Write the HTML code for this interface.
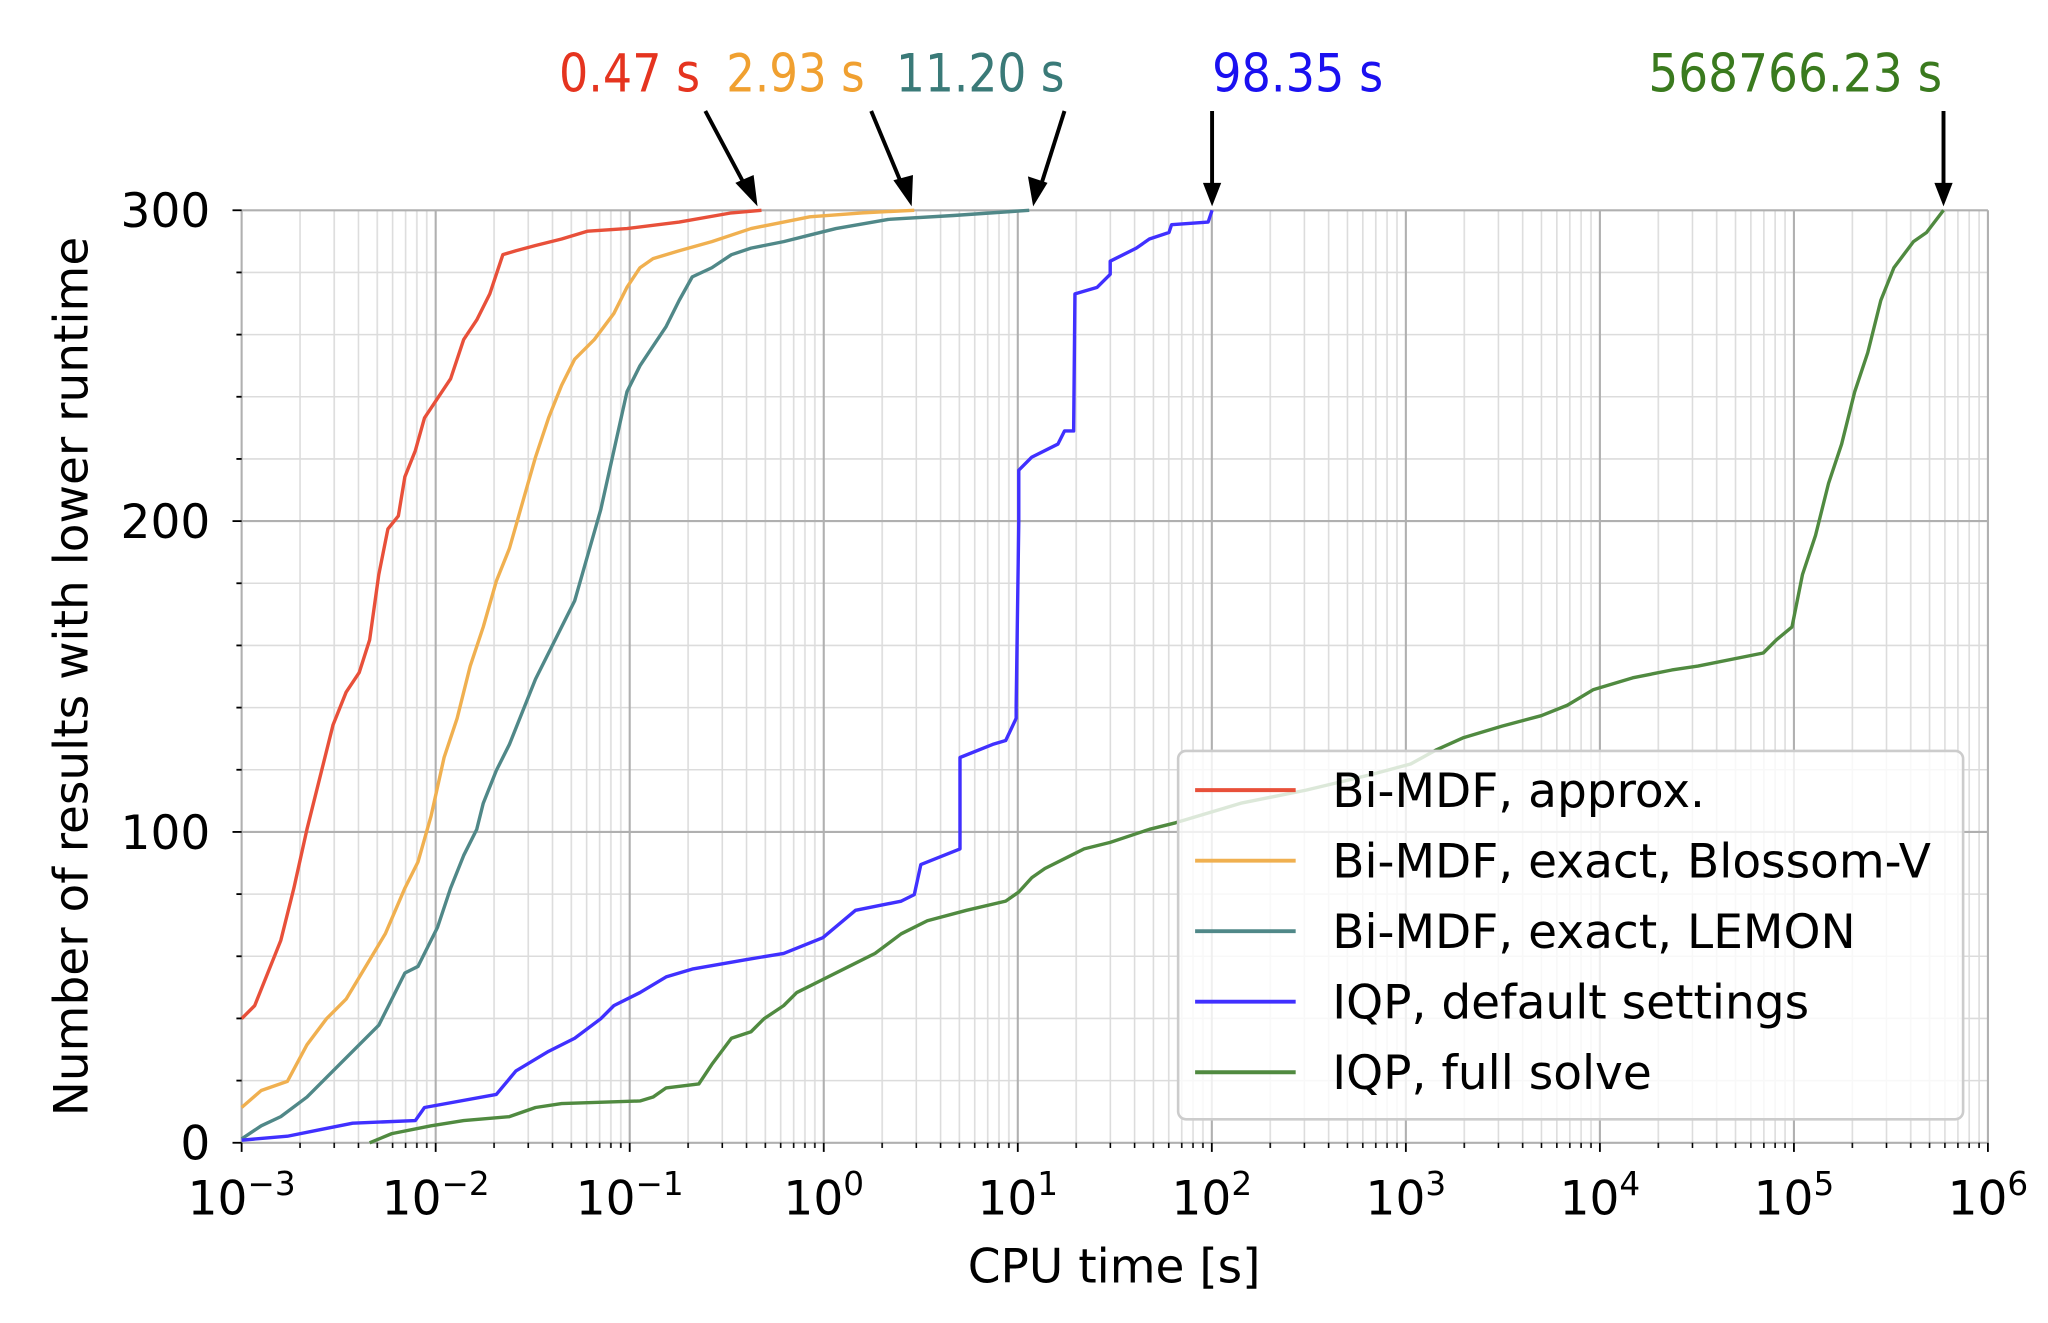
<!DOCTYPE html>
<html><head><meta charset="utf-8"><style>html,body{margin:0;padding:0;background:#fff}svg{display:block}</style></head>
<body>
<svg width="2048" height="1323" viewBox="0 0 1568 1013" preserveAspectRatio="none" xmlns="http://www.w3.org/2000/svg" font-family="DejaVu Sans, Liberation Sans, sans-serif">
<defs>
<pattern id="minx" x="185" y="0" width="148.56" height="1013" patternUnits="userSpaceOnUse">
<g stroke="#dcdcdc" stroke-width="1.2">
<line x1="44.72" y1="0" x2="44.72" y2="1013"/><line x1="70.88" y1="0" x2="70.88" y2="1013"/><line x1="89.44" y1="0" x2="89.44" y2="1013"/><line x1="103.84" y1="0" x2="103.84" y2="1013"/><line x1="115.6" y1="0" x2="115.6" y2="1013"/><line x1="125.55" y1="0" x2="125.55" y2="1013"/><line x1="134.16" y1="0" x2="134.16" y2="1013"/><line x1="141.76" y1="0" x2="141.76" y2="1013"/>
</g></pattern>
<pattern id="mintk" x="185" y="0" width="148.56" height="1013" patternUnits="userSpaceOnUse">
<g stroke="#000" stroke-width="1.2">
<line x1="44.72" y1="0" x2="44.72" y2="1013"/><line x1="70.88" y1="0" x2="70.88" y2="1013"/><line x1="89.44" y1="0" x2="89.44" y2="1013"/><line x1="103.84" y1="0" x2="103.84" y2="1013"/><line x1="115.6" y1="0" x2="115.6" y2="1013"/><line x1="125.55" y1="0" x2="125.55" y2="1013"/><line x1="134.16" y1="0" x2="134.16" y2="1013"/><line x1="141.76" y1="0" x2="141.76" y2="1013"/>
</g></pattern>
</defs>
<rect x="185" y="161" width="1337" height="714" fill="url(#minx)"/>
<g stroke="#dcdcdc" stroke-width="1.2">
<line x1="185" x2="1522" y1="827.4" y2="827.4"/><line x1="185" x2="1522" y1="779.8" y2="779.8"/><line x1="185" x2="1522" y1="732.2" y2="732.2"/><line x1="185" x2="1522" y1="684.6" y2="684.6"/><line x1="185" x2="1522" y1="589.4" y2="589.4"/><line x1="185" x2="1522" y1="541.8" y2="541.8"/><line x1="185" x2="1522" y1="494.2" y2="494.2"/><line x1="185" x2="1522" y1="446.6" y2="446.6"/><line x1="185" x2="1522" y1="351.4" y2="351.4"/><line x1="185" x2="1522" y1="303.8" y2="303.8"/><line x1="185" x2="1522" y1="256.2" y2="256.2"/><line x1="185" x2="1522" y1="208.6" y2="208.6"/>
</g>
<g stroke="#b0b0b0" stroke-width="1.6">
<line x1="333.56" x2="333.56" y1="161" y2="875"/><line x1="482.12" x2="482.12" y1="161" y2="875"/><line x1="630.68" x2="630.68" y1="161" y2="875"/><line x1="779.24" x2="779.24" y1="161" y2="875"/><line x1="927.8" x2="927.8" y1="161" y2="875"/><line x1="1076.36" x2="1076.36" y1="161" y2="875"/><line x1="1224.92" x2="1224.92" y1="161" y2="875"/><line x1="1373.48" x2="1373.48" y1="161" y2="875"/>
<line x1="185" x2="1522" y1="637" y2="637"/><line x1="185" x2="1522" y1="399" y2="399"/><line x1="185" x2="1522" y1="161" y2="161"/>
<line x1="185" x2="185" y1="161" y2="875"/><line x1="1522" x2="1522" y1="161" y2="875"/><line x1="185" x2="1522" y1="875" y2="875"/>
</g>
<g fill="none" stroke-width="2.6" stroke-linejoin="round">
<polyline stroke="#e8503a" points="185,780 195,770 205,745 215,720 225,680 235,635 245,595 255,555 265,530 275,515 283,490 290,440 297,405 305,395 310,365 318,345 325,320 335,305 345,290 355,260 365,245 375,225 385,195 395,192 410,188 430,183 450,177 480,175 520,170 560,163 583,161"/>
<polyline stroke="#f0b050" points="185,848 200,835 220,828 235,800 250,780 265,765 280,740 295,715 310,680 320,660 330,625 340,580 350,550 360,510 370,480 380,445 390,420 400,385 410,350 420,320 430,295 440,275 455,260 470,240 480,220 490,205 500,198 520,192 545,185 575,175 600,170 620,166 660,163 700,161"/>
<polyline stroke="#508888" points="185,872 200,862 215,855 235,840 250,825 270,805 290,785 300,765 310,745 320,740 335,710 345,680 355,655 365,635 370,615 380,590 390,570 400,545 410,520 420,500 430,480 440,460 450,425 460,390 470,345 480,300 490,280 500,265 510,250 520,230 530,212 545,205 560,195 575,190 600,185 620,180 640,175 680,168 730,165 788,161"/>
<polyline stroke="#4030ff" points="185,873 220,870 245,865 270,860 318,858 325,848 380,838 395,820 420,805 440,795 460,780 470,770 490,760 510,748 530,742 570,735 600,730 630,718 655,697 690,690 700,685 705,662 735,650 735,580 760,570 770,567 778,550 778,540 780,400 780,360 790,350 810,340 815,330 822,330 823,225 840,220 850,210 850,200 870,190 880,183 895,178 897,172 925,170 928,161"/>
<polyline stroke="#508a40" points="283,875 300,868 330,862 355,858 390,855 410,848 430,845 490,843 500,840 510,833 535,830 545,815 560,795 575,790 585,780 600,770 610,760 630,750 650,740 670,730 690,715 710,705 740,697 770,690 780,683 790,672 800,665 820,655 830,650 850,645 880,635 900,630 950,615 1000,605 1050,593 1080,585 1100,574 1120,565 1150,556 1180,548 1200,540 1220,528 1250,519 1280,513 1300,510 1350,500 1360,490 1372,480 1380,440 1390,410 1400,370 1410,340 1420,300 1430,270 1440,230 1450,205 1465,185 1475,178 1488,161"/>
</g>
<rect x="185" y="875" width="1337" height="4" fill="url(#mintk)"/>
<g stroke="#000" stroke-width="1.4">
<line x1="185" x2="185" y1="875" y2="882"/><line x1="333.56" x2="333.56" y1="875" y2="882"/><line x1="482.12" x2="482.12" y1="875" y2="882"/><line x1="630.68" x2="630.68" y1="875" y2="882"/><line x1="779.24" x2="779.24" y1="875" y2="882"/><line x1="927.8" x2="927.8" y1="875" y2="882"/><line x1="1076.36" x2="1076.36" y1="875" y2="882"/><line x1="1224.92" x2="1224.92" y1="875" y2="882"/><line x1="1373.48" x2="1373.48" y1="875" y2="882"/><line x1="1522" x2="1522" y1="875" y2="882"/>
<line x1="178" x2="185" y1="875" y2="875"/><line x1="178" x2="185" y1="637" y2="637"/><line x1="178" x2="185" y1="399" y2="399"/><line x1="178" x2="185" y1="161" y2="161"/>
<line x1="181" x2="185" y1="827.4" y2="827.4"/><line x1="181" x2="185" y1="779.8" y2="779.8"/><line x1="181" x2="185" y1="732.2" y2="732.2"/><line x1="181" x2="185" y1="684.6" y2="684.6"/><line x1="181" x2="185" y1="589.4" y2="589.4"/><line x1="181" x2="185" y1="541.8" y2="541.8"/><line x1="181" x2="185" y1="494.2" y2="494.2"/><line x1="181" x2="185" y1="446.6" y2="446.6"/><line x1="181" x2="185" y1="351.4" y2="351.4"/><line x1="181" x2="185" y1="303.8" y2="303.8"/><line x1="181" x2="185" y1="256.2" y2="256.2"/><line x1="181" x2="185" y1="208.6" y2="208.6"/>
</g>
<g font-size="36" fill="#000" text-anchor="end">
<text x="161" y="888">0</text><text x="161" y="650">100</text><text x="161" y="412">200</text><text x="161" y="174">300</text>
</g>
<g font-size="36" fill="#000" text-anchor="middle">
<text x="185" y="930">10<tspan font-size="25" dy="-15">−3</tspan></text>
<text x="333.56" y="930">10<tspan font-size="25" dy="-15">−2</tspan></text>
<text x="482.12" y="930">10<tspan font-size="25" dy="-15">−1</tspan></text>
<text x="630.68" y="930">10<tspan font-size="25" dy="-15">0</tspan></text>
<text x="779.24" y="930">10<tspan font-size="25" dy="-15">1</tspan></text>
<text x="927.8" y="930">10<tspan font-size="25" dy="-15">2</tspan></text>
<text x="1076.36" y="930">10<tspan font-size="25" dy="-15">3</tspan></text>
<text x="1224.92" y="930">10<tspan font-size="25" dy="-15">4</tspan></text>
<text x="1373.48" y="930">10<tspan font-size="25" dy="-15">5</tspan></text>
<text x="1522" y="930">10<tspan font-size="25" dy="-15">6</tspan></text>
<text x="853" y="982">CPU time [s]</text>
<text transform="translate(67,518) rotate(-90)">Number of results with lower runtime</text>
</g>
<rect x="902" y="575" width="601" height="282" rx="6" fill="#fff" fill-opacity="0.8" stroke="#cccccc" stroke-width="2"/>
<g stroke-width="3">
<line x1="915" x2="992" y1="605" y2="605" stroke="#e8503a"/>
<line x1="915" x2="992" y1="659" y2="659" stroke="#f0b050"/>
<line x1="915" x2="992" y1="713" y2="713" stroke="#508888"/>
<line x1="915" x2="992" y1="767" y2="767" stroke="#4030ff"/>
<line x1="915" x2="992" y1="821" y2="821" stroke="#508a40"/>
</g>
<g font-size="36" fill="#000">
<text x="1020" y="618">Bi-MDF, approx.</text>
<text x="1020" y="672">Bi-MDF, exact, Blossom-V</text>
<text x="1020" y="726">Bi-MDF, exact, LEMON</text>
<text x="1020" y="780">IQP, default settings</text>
<text x="1020" y="834">IQP, full solve</text>
</g>
<g font-size="40" lengthAdjust="spacingAndGlyphs">
<text x="428" y="70" fill="#e5341f" textLength="108" lengthAdjust="spacingAndGlyphs">0.47 s</text>
<text x="556" y="70" fill="#f0a030" textLength="106" lengthAdjust="spacingAndGlyphs">2.93 s</text>
<text x="686" y="70" fill="#3a7a78" textLength="129" lengthAdjust="spacingAndGlyphs">11.20 s</text>
<text x="928" y="70" fill="#1a10f0" textLength="131" lengthAdjust="spacingAndGlyphs">98.35 s</text>
<text x="1262" y="70" fill="#3a7a1e" textLength="225" lengthAdjust="spacingAndGlyphs">568766.23 s</text>
</g>
<g stroke="#000" stroke-width="3" fill="#000">
<line x1="540" y1="85" x2="572" y2="145"/><polygon points="580,158 563,140 577,134" stroke="none"/>
<line x1="667" y1="85" x2="692" y2="145"/><polygon points="698,158 684,138 699,134" stroke="none"/>
<line x1="815" y1="85" x2="796" y2="145"/><polygon points="791,158 787,135 802,140" stroke="none"/>
<line x1="928" y1="85" x2="928" y2="145"/><polygon points="928,158 921,140 935,140" stroke="none"/>
<line x1="1488" y1="85" x2="1488" y2="145"/><polygon points="1488,158 1481,140 1495,140" stroke="none"/>
</g>
</svg>
</body></html>
